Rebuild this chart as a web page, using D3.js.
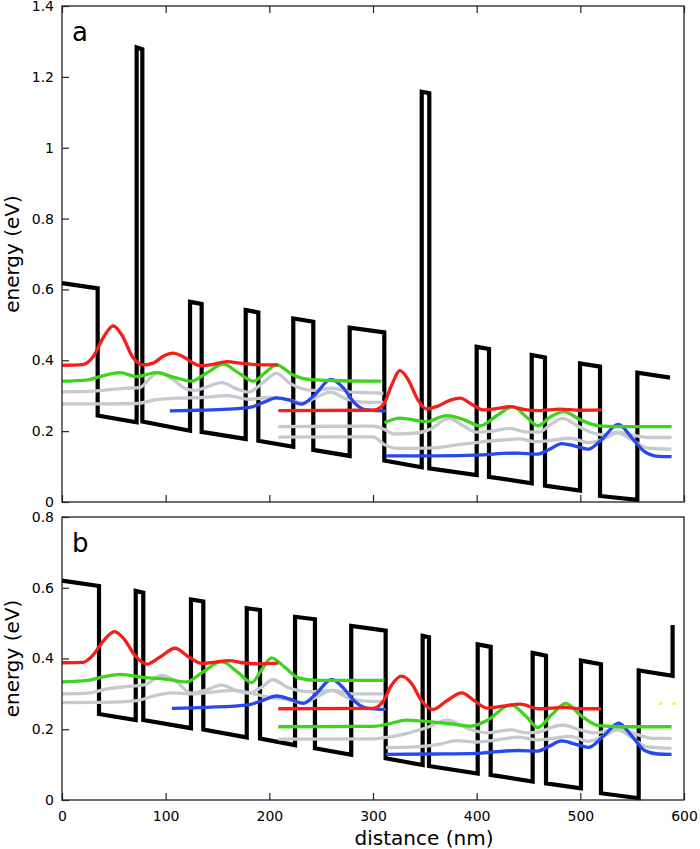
<!DOCTYPE html>
<html>
<head>
<meta charset="utf-8">
<script src="https://cdn.jsdelivr.net/npm/d3@7"></script>
<style>
  body { margin: 0; background: #fff; }
  svg text { font-family: "DejaVu Sans", sans-serif; fill: #000; }
</style>
</head>
<body>
<script>
// Band Profile + Wavefunctions, Two Panels

// Space and Layout
const w = 700;
const h = 849;
const left = 62, right = 684;
const panelA = { top: 6, bottom: 502 };
const panelB = { top: 517, bottom: 800 };

// Tick Values
const xTicks = [0, 100, 200, 300, 400, 500, 600];
const yTicksA = [0, 0.2, 0.4, 0.6, 0.8, 1, 1.2, 1.4];
const yTicksB = [0, 0.2, 0.4, 0.6, 0.8];

// Conduction Band Profile (distance nm, energy eV)
const potentialA = [[0,0.618],[34.4,0.603],[34.4,0.244],[72,0.225],[72,1.283],[77.5,1.278],[77.5,0.227],
  [123.5,0.201],[123.5,0.565],[134.7,0.559],[134.7,0.198],[177.2,0.178],[177.2,0.542],[189.4,0.535],[189.4,0.173],
  [223.1,0.156],[223.1,0.518],[242.4,0.509],[242.4,0.147],[277.5,0.130],[277.5,0.492],[310.9,0.479],[310.9,0.117],
  [347,0.098],[347,1.158],[354.3,1.154],[354.3,0.095],[400,0.076],[400,0.438],[411.9,0.432],[411.9,0.071],
  [453.1,0.053],[453.1,0.415],[465.9,0.408],[465.9,0.046],[499.7,0.032],[499.7,0.391],[519,0.382],[519,0.017],
  [555,0.006],[555,0.365],[586.5,0.351]];
const potentialB = [[0,0.620],[35.7,0.605],[35.7,0.243],[71.1,0.226],[71.1,0.591],[78.4,0.586],[78.4,0.226],
  [124.4,0.203],[124.4,0.567],[136.3,0.561],[136.3,0.199],[178.2,0.177],[178.2,0.542],[191,0.537],[191,0.174],
  [224.8,0.155],[224.8,0.518],[244,0.511],[244,0.146],[279,0.128],[279,0.492],[312.2,0.479],[312.2,0.118],
  [347.9,0.099],[347.9,0.464],[354,0.460],[354,0.096],[401,0.075],[401,0.440],[413.5,0.433],[413.5,0.071],
  [454,0.052],[454,0.416],[466.9,0.408],[466.9,0.047],[500.6,0.033],[500.6,0.394],[519.9,0.384],[519.9,0.019],
  [556.3,0.005],[556.3,0.366],[589,0.351],[589,0.495]];

// Panel a Wavefunctions
const redA1 = [[0,0.386],[20,0.388],[30,0.41],[40,0.465],[49.5,0.497],[58,0.47],[68,0.41],[78,0.387],[88,0.392],
  [98,0.412],[107,0.420],[117,0.41],[126,0.393],[133,0.385],[145,0.388],[159,0.396],[172,0.392],[185,0.388],[208.6,0.387]];
const redA2 = [[208.6,0.258],[300,0.259],[310,0.275],[318,0.33],[326,0.371],[334,0.345],[343,0.29],[351,0.263],
  [362,0.27],[374,0.287],[384,0.293],[395,0.276],[406,0.260],[420,0.264],[432,0.269],[446,0.261],[460,0.258],
  [480,0.262],[500,0.259],[520.6,0.260]];
const greenA1 = [[0,0.341],[25,0.345],[40,0.357],[56,0.365],[72,0.354],[91,0.365],[108,0.352],[125,0.341],
  [140,0.365],[155.6,0.389],[170,0.365],[184.5,0.341],[196,0.365],[207,0.387],[222,0.36],[236,0.347],[260,0.343],[308,0.341]];
const greenA2 = [[311,0.224],[326,0.237],[351.8,0.227],[371,0.244],[388,0.232],[403,0.215],[420,0.245],[435,0.269],
  [448,0.24],[459,0.215],[471,0.24],[484,0.255],[500,0.232],[518,0.215],[535,0.213],[588,0.213]];
const blueA1 = [[104,0.257],[133,0.259],[160,0.262],[181,0.267],[195,0.282],[207,0.294],[219,0.288],[231,0.276],
  [243,0.30],[259.5,0.346],[272,0.32],[282,0.28],[294,0.260],[312.5,0.257]];
const blueA2 = [[312.5,0.130],[360,0.130],[406,0.133],[425,0.137],[440,0.138],[458,0.135],[470,0.148],[482,0.165],
  [495,0.158],[507.7,0.149],[520,0.175],[536.6,0.219],[550,0.18],[562,0.142],[575,0.129],[588,0.128]];
const greyA1 = [[0,0.311],[30,0.313],[60,0.321],[75,0.323],[85,0.35],[93,0.366],[105,0.35],[118,0.322],[128,0.315],
  [140,0.325],[154,0.337],[168,0.32],[180,0.31],[195,0.34],[207,0.363],[220,0.335],[242,0.315],[261,0.321],[280,0.31],[310,0.307]];
const greyA2 = [[0,0.277],[40,0.277],[72,0.278],[90,0.288],[110,0.293],[135,0.295],[160,0.30],[180,0.29],[200,0.295],
  [215,0.29],[232,0.28],[245,0.295],[259,0.31],[275,0.29],[290,0.282],[310,0.281]];
const greyA3 = [[208.6,0.213],[300,0.214],[311,0.205],[320,0.192],[340,0.194],[355,0.205],[373,0.236],[387,0.215],
  [400,0.197],[415,0.2],[432,0.208],[447,0.198],[460,0.197],[472,0.22],[483,0.236],[497,0.215],[510,0.197],[522,0.19],
  [537,0.197],[552,0.188],[565,0.182],[588,0.182]];
const greyA4 = [[208.6,0.183],[300,0.184],[311,0.162],[325,0.151],[360,0.153],[385,0.163],[405,0.17],[425,0.175],
  [440,0.178],[458,0.17],[475,0.175],[490,0.18],[508,0.168],[522,0.178],[536,0.195],[550,0.175],[565,0.152],[588,0.149]];

// Panel b Wavefunctions
const redB1 = [[0,0.388],[20,0.389],[30,0.41],[40,0.45],[50.5,0.476],[60,0.455],[70,0.41],[82,0.384],[95,0.405],
  [109,0.429],[122,0.405],[135,0.386],[148,0.39],[160.8,0.394],[175,0.388],[190,0.385],[208.6,0.387]];
const redB2 = [[208.6,0.258],[300,0.259],[310,0.28],[318,0.325],[327.6,0.350],[337,0.33],[347,0.28],[358,0.256],
  [371,0.28],[385.5,0.303],[398,0.28],[410,0.26],[425,0.265],[442,0.271],[460,0.258],[485,0.262],[500,0.258],[520,0.258]];
const greenB1 = [[0,0.334],[25,0.338],[40,0.348],[56,0.355],[80,0.346],[100,0.342],[120,0.334],[135,0.36],[154,0.391],
  [170,0.36],[183,0.332],[193,0.37],[202,0.402],[215,0.375],[228,0.345],[245,0.338],[280,0.338],[311,0.338]];
const greenB2 = [[208.6,0.207],[300,0.208],[315,0.215],[332,0.226],[350,0.222],[375,0.215],[395,0.209],[410,0.225],
  [433,0.269],[448,0.235],[459,0.205],[472,0.24],[486,0.273],[500,0.24],[518,0.21],[540,0.207],[588,0.207]];
const blueB1 = [[106,0.259],[140,0.262],[180,0.269],[195,0.283],[207,0.294],[220,0.285],[233,0.273],[245,0.30],
  [260,0.341],[272,0.315],[282,0.28],[294,0.260],[312.5,0.256]];
const blueB2 = [[312.5,0.129],[360,0.130],[400,0.132],[420,0.137],[440,0.14],[458,0.138],[470,0.152],[482,0.167],
  [495,0.158],[508,0.149],[522,0.18],[537,0.217],[550,0.18],[562,0.14],[575,0.13],[588,0.129]];
const greyB1 = [[0,0.300],[25,0.302],[45,0.315],[60,0.320],[80,0.326],[96,0.352],[110,0.335],[125,0.302],[138,0.31],
  [154,0.325],[168,0.31],[180,0.302],[193,0.32],[203,0.34],[218,0.318],[239,0.306],[262,0.31],[280,0.30],[310,0.30]];
const greyB2 = [[0,0.275],[40,0.276],[70,0.28],[90,0.295],[105,0.303],[125,0.30],[145,0.305],[165,0.31],[185,0.30],
  [200,0.29],[215,0.285],[232,0.275],[248,0.295],[260,0.31],[275,0.29],[290,0.28],[310,0.278]];
const greyB3 = [[208.6,0.172],[300,0.173],[315,0.178],[335,0.19],[352,0.205],[372,0.226],[393,0.2],[410,0.19],
  [433,0.198],[448,0.19],[460,0.192],[472,0.205],[483,0.212],[500,0.198],[515,0.19],[536,0.2],[555,0.185],[570,0.174],[588,0.174]];
const greyB4 = [[312.5,0.148],[340,0.150],[365,0.158],[380,0.168],[400,0.164],[420,0.17],[440,0.178],[458,0.17],
  [475,0.175],[490,0.18],[508,0.166],[522,0.18],[536,0.198],[550,0.175],[565,0.15],[588,0.146]];

// Yellow Marker Dots (panel b)
const dotsB = [[577.5,0.273],[590.5,0.273]];

// Colours
const cRed = "#f41f1a", cGreen = "#3fd31c", cBlue = "#2748ee", cGrey = "#c6cacf";

// Scales
const xScale = d3.scaleLinear().domain([0, 600]).range([left, right]);
const yScaleA = d3.scaleLinear().domain([0, 1.4]).range([panelA.bottom, panelA.top]);
const yScaleB = d3.scaleLinear().domain([0, 0.8]).range([panelB.bottom, panelB.top]);

// SVG Container
const svg = d3.select("body").append("svg").attr("width", w).attr("height", h);

// Draw One Panel
function drawPanel(yScale, box, potential, curves, showXLabels, mirrorTop, yTicks, letter) {
    const g = svg.append("g");
    const waveLine = d3.line().x(d => xScale(d[0])).y(d => yScale(d[1])).curve(d3.curveMonotoneX);
    const bandLine = d3.line().x(d => xScale(d[0])).y(d => yScale(d[1]));

    // Band Profile
    g.append("path")
     .attr("d", bandLine(potential))
     .attr("fill", "none").attr("stroke", "#000")
     .attr("stroke-width", 4.2).attr("stroke-linejoin", "miter").attr("stroke-miterlimit", 10);

    // Wavefunction Curves
    curves.forEach(c => {
        g.append("path")
         .attr("d", waveLine(c.data))
         .attr("fill", "none").attr("stroke", c.color)
         .attr("stroke-width", 3.3).attr("stroke-linecap", "butt");
    });

    // Frame
    g.append("rect")
     .attr("x", left).attr("y", box.top)
     .attr("width", right - left).attr("height", box.bottom - box.top)
     .attr("fill", "none").attr("stroke", "#222").attr("stroke-width", 1.3);

    // Left Axis
    const leftAxis = d3.axisLeft(yScale).tickValues(yTicks).tickFormat(d => String(d))
                       .tickSizeInner(-7).tickSizeOuter(0).tickPadding(8);
    const la = g.append("g").attr("transform", "translate(" + left + ",0)").call(leftAxis);
    la.select(".domain").remove();
    la.selectAll("text").attr("font-size", 14).attr("font-family", "DejaVu Sans");

    // Bottom Axis
    const bottomAxis = d3.axisBottom(xScale).tickValues(xTicks)
                         .tickFormat(showXLabels ? (d => String(d)) : "")
                         .tickSizeInner(-7).tickSizeOuter(0).tickPadding(11);
    const ba = g.append("g").attr("transform", "translate(0," + box.bottom + ")").call(bottomAxis);
    ba.select(".domain").remove();
    ba.selectAll("text").attr("font-size", 14).attr("font-family", "DejaVu Sans");

    // Top Axis Ticks
    if (mirrorTop) {
        const topAxis = d3.axisTop(xScale).tickValues(xTicks).tickFormat("").tickSizeInner(-7).tickSizeOuter(0);
        const ta = g.append("g").attr("transform", "translate(0," + box.top + ")").call(topAxis);
        ta.select(".domain").remove();
    }
    g.selectAll(".tick line").attr("stroke", "#222").attr("stroke-width", 1.2);

    // Panel Letter
    g.append("text")
     .attr("x", 72).attr("y", box.top + 35)
     .attr("font-size", 26)
     .text(letter);

    // Y-Axis Label
    g.append("text")
     .attr("transform", "rotate(-90)")
     .attr("x", -((box.top + box.bottom) / 2))
     .attr("y", 19)
     .attr("text-anchor", "middle")
     .attr("font-size", 20)
     .text("energy (eV)");
    return g;
}

drawPanel(yScaleA, panelA, potentialA, [
    { data: greyA1, color: cGrey }, { data: greyA2, color: cGrey },
    { data: greyA3, color: cGrey }, { data: greyA4, color: cGrey },
    { data: blueA1, color: cBlue }, { data: blueA2, color: cBlue },
    { data: greenA1, color: cGreen }, { data: greenA2, color: cGreen },
    { data: redA1, color: cRed }, { data: redA2, color: cRed }
], false, true, yTicksA, "a");

const gB = drawPanel(yScaleB, panelB, potentialB, [
    { data: greyB1, color: cGrey }, { data: greyB2, color: cGrey },
    { data: greyB3, color: cGrey }, { data: greyB4, color: cGrey },
    { data: blueB1, color: cBlue }, { data: blueB2, color: cBlue },
    { data: greenB1, color: cGreen }, { data: greenB2, color: cGreen },
    { data: redB1, color: cRed }, { data: redB2, color: cRed }
], true, false, yTicksB, "b");

// Yellow Dots
gB.selectAll("circle.dot").data(dotsB).enter().append("circle")
  .attr("cx", d => xScale(d[0])).attr("cy", d => yScaleB(d[1]))
  .attr("r", 1.6).attr("fill", "#f2ee30");

// X-Axis Label
svg.append("text")
   .attr("x", 424).attr("y", 845)
   .attr("text-anchor", "middle")
   .attr("font-size", 20)
   .text("distance (nm)");
</script>
</body>
</html>
